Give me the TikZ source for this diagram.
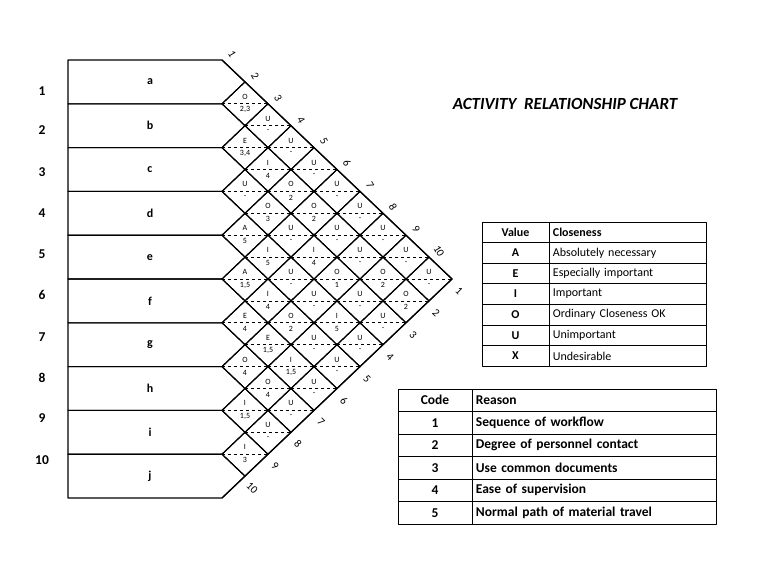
\documentclass[tikz,border=0pt]{standalone}
\usepackage{fontspec}
\setmainfont{Carlito}
\begin{document}
\begin{tikzpicture}[x=1pt,y=-1pt,line join=round,
  rowbox/.style={draw,line width=1.1pt},
  dia/.style={draw,line width=1.1pt},
  dline/.style={dashed,line width=0.7pt},
  dtxt/.style={font=\fontsize{8}{8}\selectfont,inner sep=0pt},
  rlab/.style={font=\bfseries\fontsize{13.5}{15}\selectfont},
  elab/.style={font=\fontsize{11}{12}\selectfont,inner sep=1pt},
  cell/.style={draw,line width=0.8pt,minimum height=20.6pt,inner sep=2pt,font=\fontsize{12}{13}\selectfont},
  cellb/.style={draw,line width=0.8pt,minimum height=22.5pt,inner sep=2pt,font=\bfseries\fontsize{13.5}{15}\selectfont}]
\useasboundingbox (0,0) rectangle (768,576);
\def\W{23}\def\H{21.9}
% row boxes
\foreach \k/\lt in {1/a,2/b,3/c,4/d,5/e,6/f,7/g,8/h,9/i,10/j}{
  \pgfmathsetmacro\yt{60+(\k-1)*43.8}
  \pgfmathsetmacro\yc{\yt+21.9}
  \pgfmathsetmacro\yb{\yt+43.8}
  \draw[rowbox] (222,\yt) -- (68,\yt) -- (68,\yb) -- (222,\yb) -- (245,\yc) -- cycle;
  \node[rlab,font=\bfseries\fontsize{12}{13}\selectfont] (let\k) at (150,\yc) {\lt};
}
\foreach \k/\yy in {1/91,2/130,3/172,4/213,5/254,6/295,7/337,8/378,9/418,10/460}
  \node[rlab] (num\k) at (42,\yy) {\k};
% diamonds
\foreach \i/\j/\t/\b in {1/2/O/{2,3},1/3/U/-,2/3/E/{3,4},1/4/U/-,2/4/I/4,1/5/U/-,3/4/U/-,2/5/O/2,1/6/U/-,
 3/5/O/3,2/6/O/2,1/7/U/-,4/5/A/5,3/6/U/-,2/7/U/-,1/8/U/-,4/6/I/5,3/7/I/4,2/8/U/-,1/9/U/-,
 5/6/A/{1,5},4/7/U/-,3/8/O/1,2/9/O/2,1/10/U/-,5/7/I/4,4/8/U/-,3/9/U/-,2/10/O/2,
 6/7/E/4,5/8/O/2,4/9/I/5,3/10/U/-,6/8/E/{1,5},5/9/U/-,4/10/U/-,7/8/O/4,6/9/I/{1,5},5/10/U/-,
 7/9/O/4,6/10/U/-,8/9/I/{1,5},7/10/U/-,8/10/U/-,9/10/I/3}{
  \pgfmathsetmacro\cx{222+(\j-\i)*\W}
  \pgfmathsetmacro\cy{60+((\i+\j)/2-0.5)*43.8}
  \draw[dia] (\cx-\W,\cy) -- (\cx,\cy-\H) -- (\cx+\W,\cy) -- (\cx,\cy+\H) -- cycle;
  \draw[dline] (\cx-\W,\cy) -- (\cx+\W,\cy);
  \node[dtxt] (t\i-\j) at (\cx,\cy-7) {\t};
  \node[dtxt] (b\i-\j) at (\cx,\cy+6) {\b};
}
% outer boundary
\draw[line width=1.3pt] (222,60) -- (452,279) -- (222,498);
\foreach \k in {1,...,10}{
  \node[elab,rotate=-60] (tl\k) at ({222+(\k-1)*\W+10},{60+(\k-1)*\H-6}) {\k};
  \node[elab,rotate=-45] (bl\k) at ({452-(\k-1)*\W+7},{279+(\k-1)*\H+12}) {\k};
}
% title
\node[font=\bfseries\itshape\fontsize{17}{19}\selectfont] (title) at (565,104) {ACTIVITY\ \ RELATIONSHIP CHART};
% table 1
\foreach \v/\c [count=\r] in {{\textbf{Value}}/{\textbf{Closeness}},\textbf{A}/Absolutely necessary,\textbf{E}/Especially important,\textbf{I}/Important,\textbf{O}/Ordinary Closeness OK,\textbf{U}/Unimportant,\textbf{X}/Undesirable}{
  \pgfmathsetmacro\yy{222+(\r-0.5)*20.6}
  \node[cell,minimum width=67pt] (v\r) at (515.5,\yy) {\v};
  \node[cell,minimum width=157pt,anchor=west,text width=150pt] (c\r) at (549,\yy) {\c};
}
% table 2
\foreach \v/\c [count=\r] in {Code/Reason,1/Sequence of workflow,2/Degree of personnel contact,3/Use common documents,4/Ease of supervision,5/Normal path of material travel}{
  \pgfmathsetmacro\yy{389+(\r-0.5)*22.5}
  \node[cellb,minimum width=74pt] (k\r) at (435,\yy) {\v};
  \node[cellb,minimum width=244pt,anchor=west,text width=237pt] (r\r) at (472,\yy) {\c};
}
\end{tikzpicture}
\end{document}
